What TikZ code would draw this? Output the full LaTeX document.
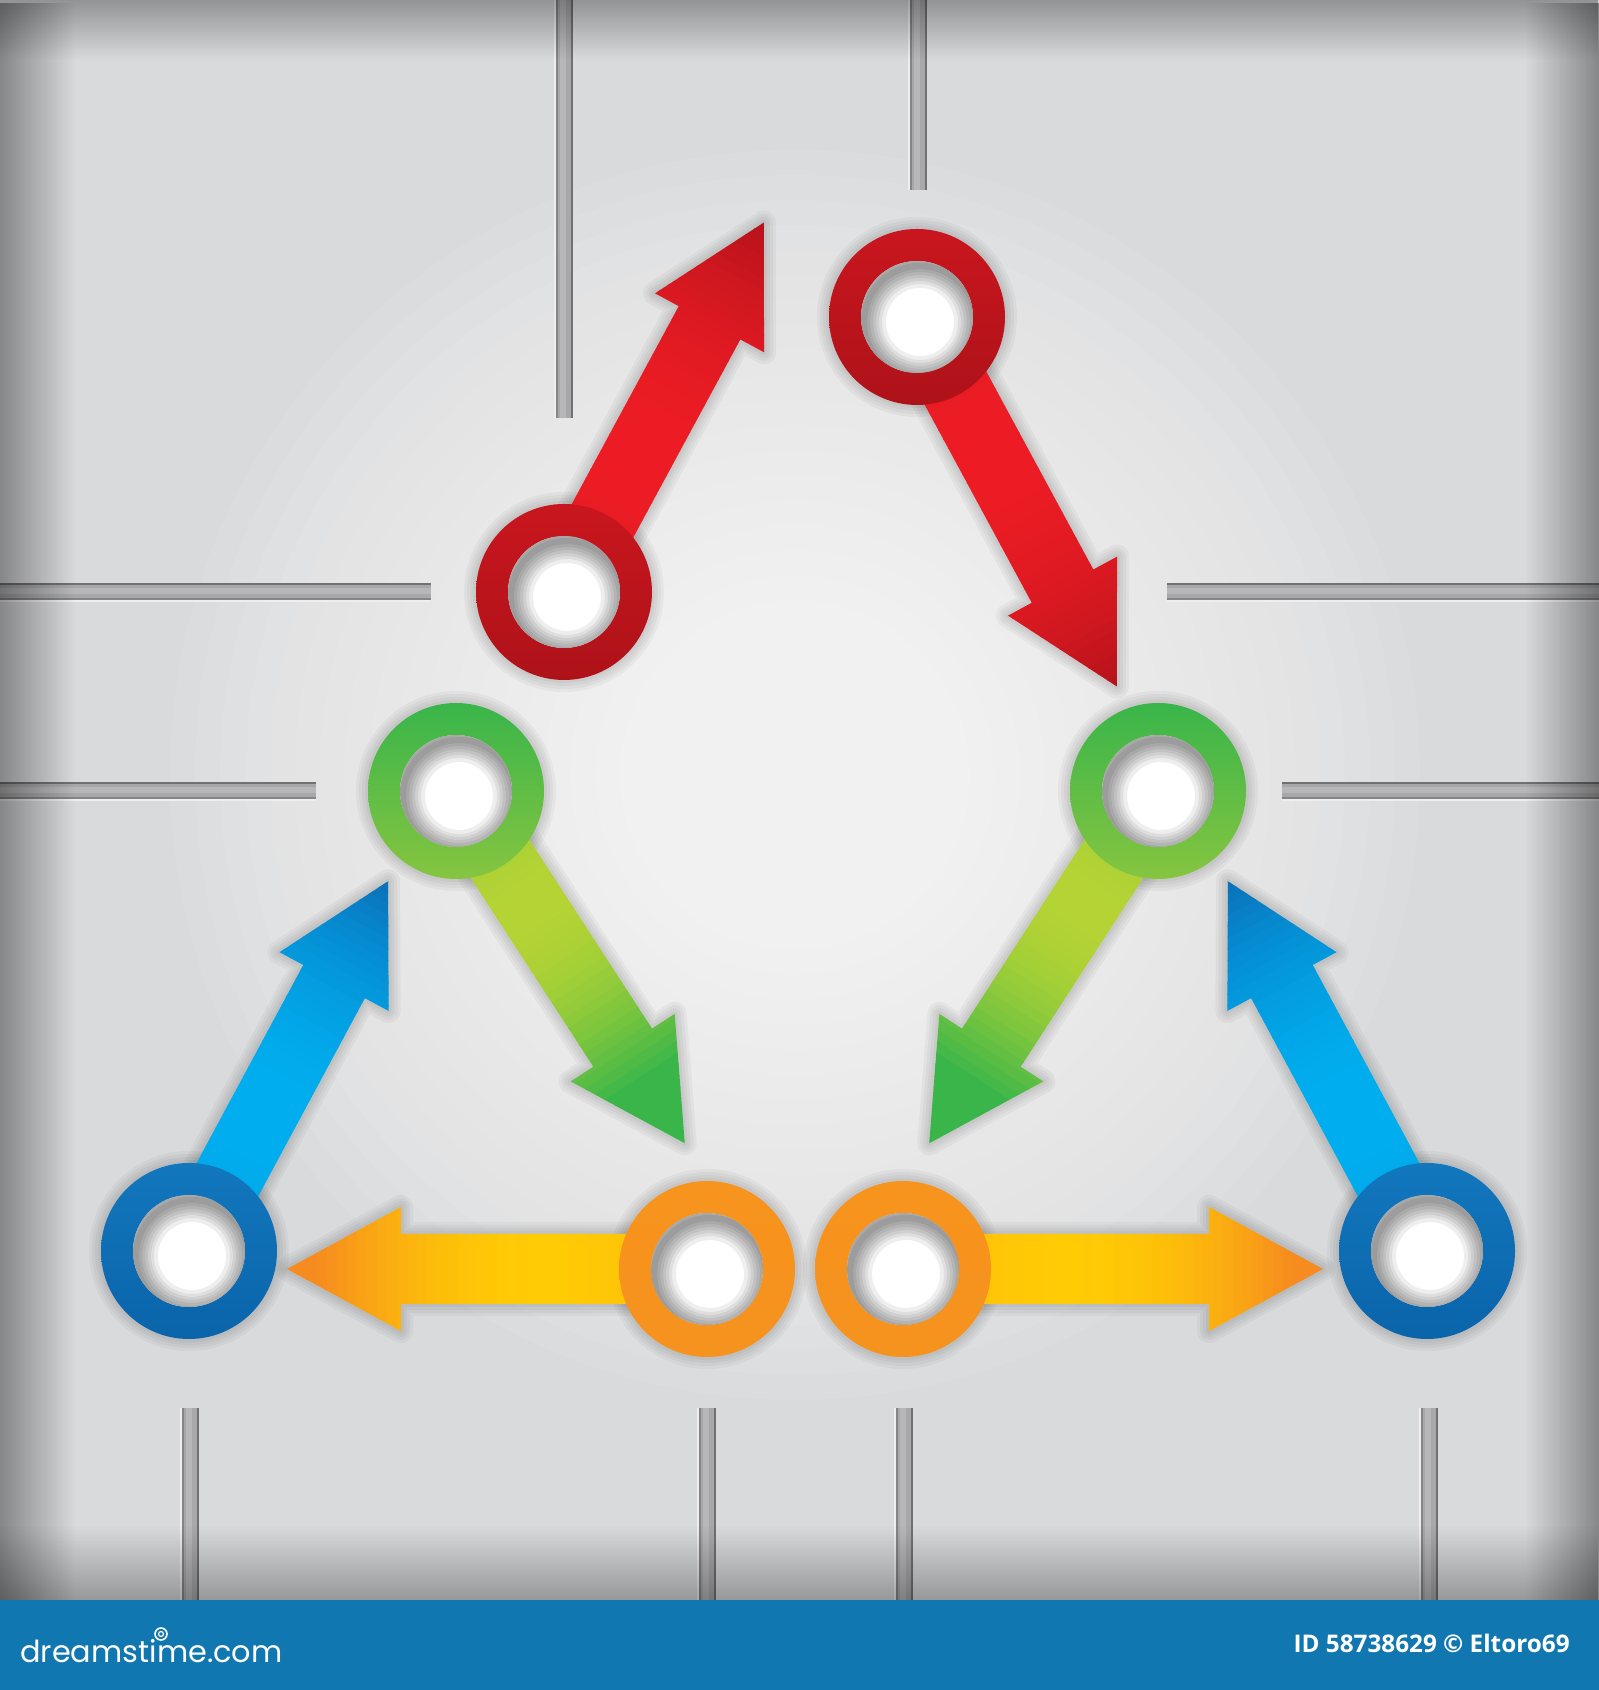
\documentclass[tikz,border=0pt]{standalone}
\usepackage{fontspec}
\usepackage{graphicx}
\usetikzlibrary{fadings}
\newfontfamily\logofont{Poppins}
\newfontfamily\creditfont{Open Sans}

\definecolor{bgc}{HTML}{D9DADC}
\definecolor{barc}{HTML}{1077B0}
\definecolor{groove}{HTML}{A8A8AA}
\definecolor{groovedark}{HTML}{858587}
\definecolor{rdark}{HTML}{B3121B}
\definecolor{rbright}{HTML}{ED1C24}
\definecolor{rringT}{HTML}{C9161E}
\definecolor{rringB}{HTML}{AE1219}
\definecolor{gdark}{HTML}{39B54A}
\definecolor{gbright}{HTML}{B5D334}
\definecolor{gringT}{HTML}{39B54A}
\definecolor{gringB}{HTML}{86C540}
\definecolor{bdark}{HTML}{0B6CB5}
\definecolor{bbright}{HTML}{00AEEF}
\definecolor{bringT}{HTML}{1277BD}
\definecolor{bringB}{HTML}{0A64AA}
\definecolor{odark}{HTML}{F68B1F}
\definecolor{obright}{HTML}{FFCB05}
\definecolor{oringT}{HTML}{F7941D}
\definecolor{oringB}{HTML}{F6921E}

\tikzfading[name=fromleft, left color=transparent!0, right color=transparent!100]
\tikzfading[name=fromright, left color=transparent!100, right color=transparent!0]
\tikzfading[name=fromtop, top color=transparent!0, bottom color=transparent!100]
\tikzfading[name=frombottom, top color=transparent!100, bottom color=transparent!0]

% vertical groove: x, y1 (image), y2 (image)
\newcommand{\vgroove}[3]{%
  \fill[groove] ({#1-8},{1690-#2}) rectangle ({#1+8},{1690-#3});
  \fill[white, opacity=0.18] ({#1-4},{1690-#2}) rectangle ({#1+2},{1690-#3});
  \draw[groovedark, line width=1pt] ({#1-7.5},{1690-#2}) -- ({#1-7.5},{1690-#3});
  \draw[groovedark!85!black, line width=1pt] ({#1+7.5},{1690-#2}) -- ({#1+7.5},{1690-#3});
  \draw[white!80!groove, line width=1pt] ({#1-9.5},{1690-#2}) -- ({#1-9.5},{1690-#3});
}
% horizontal groove: y (image), x1, x2
\newcommand{\hgroove}[3]{%
  \fill[groove] (#2,{1690-#1-8}) rectangle (#3,{1690-#1+8});
  \fill[white, opacity=0.18] (#2,{1690-#1-2}) rectangle (#3,{1690-#1+4});
  \draw[groovedark!85!black, line width=1pt] (#2,{1690-#1+7.5}) -- (#3,{1690-#1+7.5});
  \draw[groovedark, line width=1pt] (#2,{1690-#1-7.5}) -- (#3,{1690-#1-7.5});
  \draw[white!80!groove, line width=1pt] (#2,{1690-#1-9.5}) -- (#3,{1690-#1-9.5});
}

\def\gradw{0.72}
% ring with arrow: name, x, y (image), angle, colour prefix, gradient peak
\newcommand{\ringarrow}[6]{%
  \coordinate (#1) at (#2,{1690-#3});
  \begin{scope}[shift={(#1)}, rotate=#4]
    \foreach \w in {3pt,6pt,9pt,12pt}
      \draw[black, opacity=0.035, line width=\w, line join=round]
        (40,-35) -- (306,-35) -- (306,-62) -- (420,0) -- (306,62) -- (306,35) -- (40,35) -- cycle;
  \end{scope}
  \begin{scope}[shift={(#1)}]
    \foreach \w in {3pt,6pt,9pt,12pt}
      \draw[black, opacity=0.035, line width=\w] (0,0) circle[radius=88];
  \end{scope}
  \begin{scope}[shift={(#1)}, rotate=#4]
    \clip (40,-35) -- (306,-35) -- (306,-62) -- (420,0) -- (306,62) -- (306,35) -- (40,35) -- cycle;
    \foreach \i in {0,...,37}{%
      \pgfmathsetmacro\tpos{(\i*10+5)/380}%
      \pgfmathsetmacro\pc{max(0,100*(1-((\tpos-#6)/\gradw)*((\tpos-#6)/\gradw)))}%
      \colorlet{slc}{#5bright!\pc!#5dark}%
      \fill[slc] ({40+\i*10},-70) rectangle ++(11,140);
    }
  \end{scope}
  \begin{scope}[shift={(#1)}]
    \shade[even odd rule, top color=#5ringT, bottom color=#5ringB]
      (0,0) circle[radius=88] (0,0) circle[radius=56];
    \fill[white] (0,0) circle[radius=56];
    \begin{scope}
      \clip (0,0) circle[radius=56];
      \foreach \w in {3pt,6pt,9pt,12pt,15pt,18pt,22pt}
        \draw[black, opacity=0.065, line width=\w] (3,-5) circle[radius=56];
    \end{scope}
  \end{scope}
}

\begin{document}
\begin{tikzpicture}[x=0.5pt,y=0.5pt]
\useasboundingbox (0,0) rectangle (1599,1690);
% background
\fill[bgc] (0,90) rectangle (1599,1690);
\begin{scope}
  \clip (0,90) rectangle (1599,1690);
  \foreach \r in {625,600,...,25}
    \fill[white, opacity=0.065] (795,915) circle[radius=\r];
\end{scope}

% grooves
\vgroove{564}{0}{418}
\vgroove{918}{0}{190}
\hgroove{592}{0}{431}
\hgroove{592}{1167}{1599}
\hgroove{791}{0}{316}
\hgroove{791}{1282}{1599}
\vgroove{190}{1408}{1600}
\vgroove{707}{1408}{1600}
\vgroove{904}{1408}{1600}
\vgroove{1429}{1408}{1600}

% vignette
\fill[black, fill opacity=0.38, path fading=fromleft] (0,90) rectangle (75,1690);
\fill[black, fill opacity=0.38, path fading=fromright] (1525,90) rectangle (1599,1690);
\fill[black, fill opacity=0.32, path fading=fromtop] (0,1630) rectangle (1599,1690);
\fill[black, fill opacity=0.30, path fading=frombottom] (0,90) rectangle (1599,165);

% rings and arrows
\ringarrow{ra}{564}{592}{61.6}{r}{0.3}
\ringarrow{rt}{917}{317}{-61.6}{r}{0.3}
\def\gradw{0.55}
\ringarrow{gl}{456}{791}{-57}{g}{0.25}
\ringarrow{gr}{1158}{791}{237}{g}{0.25}
\def\gradw{0.72}
\ringarrow{bl}{189}{1251}{61.7}{b}{0.3}
\ringarrow{br}{1427}{1251}{118.3}{b}{0.3}
\def\gradw{0.6}
\ringarrow{ol}{707}{1269}{180}{o}{0.32}
\ringarrow{or}{903}{1269}{0}{o}{0.32}

% bottom bar
\fill[barc] (0,0) rectangle (1599,90);
\node[anchor=base west, inner sep=0pt, text=white] (logo) at (20,27)
  {\resizebox{131pt}{!}{\logofont dreamstime.com}};
\draw[white, line width=0.8pt] (161,56) circle[radius=6];
\draw[white, line width=0.6pt] (161,56) circle[radius=2.5];
\node[anchor=base east, inner sep=0pt, text=white] (credit) at (1570,37)
  {\resizebox{138pt}{!}{\creditfont\bfseries ID 58738629 © Eltoro69}};
\end{tikzpicture}
\end{document}
